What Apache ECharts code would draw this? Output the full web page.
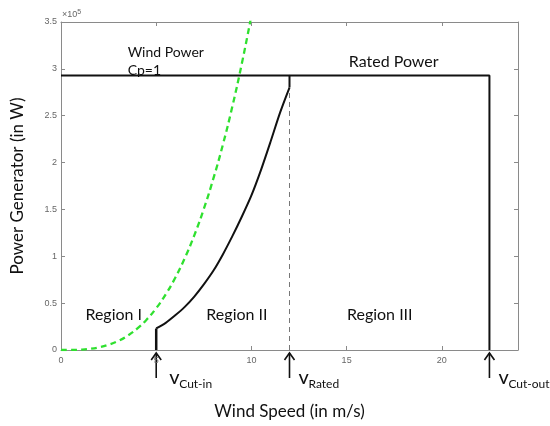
<!DOCTYPE html>
<html>
<head>
<meta charset="utf-8">
<script src="https://cdn.jsdelivr.net/npm/echarts@6/dist/echarts.min.js"></script>
<style>html,body{margin:0;padding:0;background:#fff}#c{width:550px;height:426px}</style>
</head>
<body>
<div id="c"></div>
<script>
// Wind power (Cp = 1) curve, green dashed
const greenV = [0,0.5,1,1.5,2,2.5,3,3.5,4,4.5,5,5.5,6,6.5,7,7.5,8,8.5,9,9.5,10];
const greenP = [0,45,360,1200,2860,5600,9600,15300,22800,32500,44600,59400,77100,98000,122400,150600,182800,219000,260000,306000,357000];
// Generator power curve, Region II
const curveV = [5,5.5,6,6.5,7,7.5,8,8.5,9,9.5,10,10.5,11,11.5,12];
const curveP = [23000,29000,37000,46000,57000,70000,84500,102000,121500,142500,165000,192000,222000,253000,280000];
const ratedPower = 293000;
const cutInPower = 23000;
const vCutIn = 5, vRated = 12, vCutOut = 22.5;
const xMin = 0, xMax = 24, xStep = 5;
const yMin = 0, yMax = 350000, yStep = 50000;
// Annotations [text, v, P]
const notes = [
  ['Wind Power', 3.5, 318000, 'left', 14],
  ['Cp=1', 3.5, 298000, 'left', 14],
  ['Rated Power', 17.47, 307000, 'center', 16],
  ['Region I', 2.77, 37300, 'center', 16],
  ['Region II', 9.24, 37300, 'center', 16],
  ['Region III', 16.74, 37300, 'center', 16]
];
const arrows = [['Cut-in', vCutIn, 13], ['Rated', vRated, 9], ['Cut-out', vCutOut, 9]];

const zip = (a, b) => a.map((v, i) => [v, b[i]]);
const font = 'Lato';
const black = '#111';
const axisGray = '#8a8a8a';

const chart = echarts.init(document.getElementById('c'));
const baseX = {
  type: 'value', min: xMin, max: xMax, interval: xStep,
  axisLine: {show: true, onZero: false, lineStyle: {color: axisGray, width: 1}},
  axisTick: {show: true, inside: true, length: 4, lineStyle: {color: axisGray}},
  splitLine: {show: false}
};
const baseY = {
  type: 'value', min: yMin, max: yMax, interval: yStep,
  axisLine: {show: true, onZero: false, lineStyle: {color: axisGray, width: 1}},
  axisTick: {show: true, inside: true, length: 4, lineStyle: {color: axisGray}},
  splitLine: {show: false}
};
chart.setOption({
  animation: false,
  grid: {left: 61, right: 32, top: 22, bottom: 76, containLabel: false},
  xAxis: [
    Object.assign({}, baseX, {
      position: 'bottom',
      name: 'Wind Speed (in m/s)', nameLocation: 'middle', nameGap: 53,
      nameTextStyle: {fontFamily: font, fontSize: 17, color: black},
      axisLabel: {show: true, margin: 6, fontSize: 9, color: '#666', fontFamily: 'Liberation Sans', showMaxLabel: false}
    }),
    Object.assign({}, baseX, {position: 'top', axisLabel: {show: false}})
  ],
  yAxis: [
    Object.assign({}, baseY, {
      position: 'left',
      name: 'Power Generator (in W)', nameLocation: 'middle', nameGap: 35,
      nameTextStyle: {fontFamily: font, fontSize: 17, color: black},
      axisLabel: {show: true, margin: 4, fontSize: 9, color: '#666', fontFamily: 'Liberation Sans',
        formatter: v => String(v / 100000)}
    }),
    Object.assign({}, baseY, {position: 'right', axisLabel: {show: false}})
  ],
  series: [
    {type: 'line', data: [[vRated, 0], [vRated, curveP[curveP.length - 1]]], symbol: 'none',
     lineStyle: {color: '#777', width: 1, type: [5, 4]}},
    {type: 'line', data: zip(greenV, greenP), smooth: true, symbol: 'none', clip: true,
     lineStyle: {color: '#2fe02f', width: 2.3, type: [6, 4]}},
    {type: 'line', data: [[0, ratedPower], [vRated, ratedPower]], symbol: 'none',
     lineStyle: {color: black, width: 2}},
    {type: 'line', data: [[vCutIn, 0], [vCutIn, cutInPower]], symbol: 'none',
     lineStyle: {color: black, width: 2.5}},
    {type: 'line', data: zip(curveV, curveP), smooth: 0.25, symbol: 'none',
     lineStyle: {color: black, width: 2}},
    {type: 'line', data: [[vRated, curveP[curveP.length - 1]], [vRated, ratedPower], [vCutOut, ratedPower], [vCutOut, 0]],
     symbol: 'none', lineStyle: {color: black, width: 2}}
  ]
});

function px(v, p) { return chart.convertToPixel({gridIndex: 0}, [v, p]); }
const g = [];
notes.forEach(([t, v, p, al, fs]) => {
  const q = px(v, p);
  g.push({type: 'text', x: q[0], y: q[1], style: {text: t, fill: black, font: fs + 'px ' + font, align: al, verticalAlign: 'middle'}});
});
const axisY = px(0, 0)[1];
arrows.forEach(([sub, v, off]) => {
  const x = px(v, 0)[0];
  const tip = axisY + 3;
  g.push({type: 'line', shape: {x1: x, y1: tip, x2: x, y2: axisY + 28}, style: {stroke: black, lineWidth: 1.6}});
  g.push({type: 'polyline', shape: {points: [[x - 5, tip + 7], [x, tip], [x + 5, tip + 7]]}, style: {stroke: black, lineWidth: 1.6, fill: null}});
  g.push({type: 'text', x: x + off, y: axisY + 28, style: {text: 'v', fill: black, font: '20px ' + font, align: 'left', verticalAlign: 'middle'}});
  g.push({type: 'text', x: x + off + 10, y: axisY + 34, style: {text: sub, fill: black, font: '12px ' + font, align: 'left', verticalAlign: 'middle'}});
});
const plotTop = px(0, yMax);
g.push({type: 'text', x: plotTop[0] + 1, y: plotTop[1] - 7, style: {
  text: '{a|×10}{b|5}', align: 'left', verticalAlign: 'middle',
  rich: {a: {fontSize: 9, fill: '#666', fontFamily: 'Liberation Sans'}, b: {fontSize: 7, fill: '#666', fontFamily: 'Liberation Sans', padding: [0, 0, 6, 0]}}
}});
chart.setOption({graphic: g});
</script>
</body>
</html>
